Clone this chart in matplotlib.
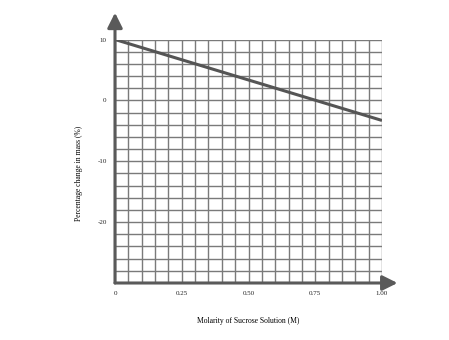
import matplotlib
matplotlib.use('Agg')
import matplotlib.pyplot as plt
import numpy as np

# data
molarity = [0.0, 1.0]
mass_change = [10.0, -3.3]
x_ticks = [0, 0.25, 0.50, 0.75, 1.00]
x_tick_labels = ['0', '0.25', '0.50', '0.75', '1.00']
y_ticks = [10, 0, -10, -20]
y_tick_labels = ['10', '0', '-10', '-20']

plt.rcParams['font.family'] = ['Liberation Serif', 'DejaVu Serif']

fig = plt.figure(figsize=(4.49, 3.40), dpi=100)
ax = fig.add_axes([115 / 449, 57 / 340, 267 / 449, 243.5 / 340])

x_min, x_max = 0.0, 1.0
y_min, y_max = -30.0, 10.0
ax.set_xlim(x_min, x_max)
ax.set_ylim(y_min, y_max)

# graph paper grid, 20 x 20
for gx in np.linspace(x_min, x_max, 21):
    ax.axvline(gx, color='#7a7a7a', lw=1.0, zorder=1)
for gy in np.linspace(y_min, y_max, 21):
    ax.axhline(gy, color='#7a7a7a', lw=1.0, zorder=1)

for s in ax.spines.values():
    s.set_visible(False)

# axes with arrow heads
axis_color = '#5a5a5a'
ax.annotate('', xy=(0, 14.4), xytext=(0, y_min), xycoords='data',
            arrowprops=dict(arrowstyle='-|>,head_length=0.9,head_width=0.45',
                            color=axis_color, lw=2.2, shrinkA=0, shrinkB=0),
            annotation_clip=False, zorder=5)
ax.annotate('', xy=(1.058, y_min), xytext=(0, y_min), xycoords='data',
            arrowprops=dict(arrowstyle='-|>,head_length=0.9,head_width=0.45',
                            color=axis_color, lw=2.2, shrinkA=0, shrinkB=0),
            annotation_clip=False, zorder=5)

ax.plot(molarity, mass_change, color='#555555', lw=2.2, zorder=4,
        solid_capstyle='butt')

ax.set_xticks(x_ticks)
ax.set_xticklabels(x_tick_labels)
ax.set_yticks(y_ticks)
ax.set_yticklabels(y_tick_labels)
ax.tick_params(length=0, labelsize=5, pad=6, colors='#222222')

ax.set_xlabel('Molarity of Sucrose Solution (M)', fontsize=5.5, labelpad=15)
ax.set_ylabel('Percentage change in mass (%)', fontsize=5.5)
ax.yaxis.set_label_coords(-0.12, 0.452)

fig.savefig('out.png', dpi=100)
